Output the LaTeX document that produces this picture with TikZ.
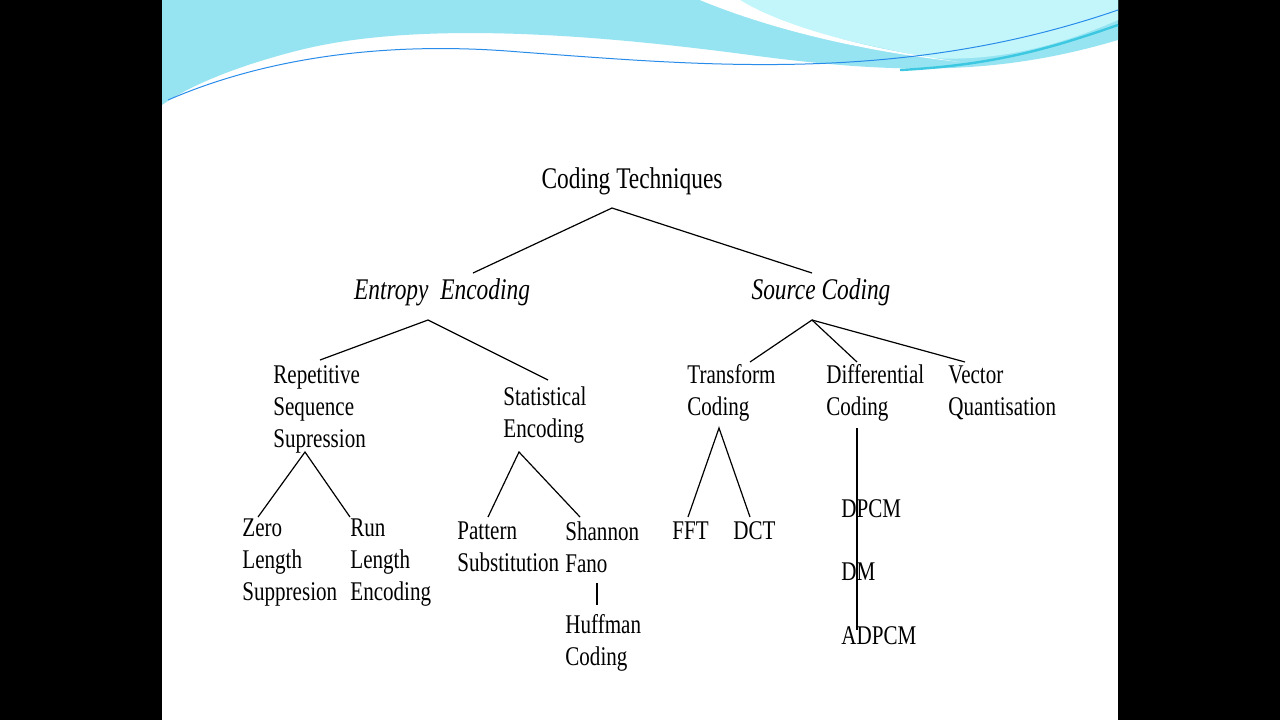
\documentclass[tikz,border=0pt]{standalone}
\usepackage{fontspec}
\setmainfont{Liberation Serif}[FakeStretch=0.78]
\definecolor{wave}{RGB}{150,228,242}
\definecolor{wavelt}{RGB}{195,246,250}
\definecolor{wavedk}{RGB}{60,200,225}
\begin{document}
\begin{tikzpicture}[x=0.5pt,y=-0.5pt,
  lbl/.style={inner sep=0pt,align=left,font=\fontsize{13.5}{16}\selectfont},
  ttl/.style={inner sep=0pt,font=\fontsize{15}{18}\selectfont},
  br/.style={line width=0.6pt}]
\useasboundingbox (0,0) rectangle (1280,720);
\fill[black] (0,0) rectangle (1280,720);
\fill[white] (162,0) rectangle (1118,720);
% banner
\fill[wave] (162,0) -- (1118,0) -- (1118,40) .. controls (1000,75) and (900,75) .. (750,55) .. controls (600,35) and (420,20) .. (300,50) .. controls (240,65) and (190,85) .. (162,105) -- cycle;
\fill[wavelt] (700,0) -- (1118,0) -- (1118,20) .. controls (1060,45) and (1000,62) .. (930,58) .. controls (840,40) and (760,20) .. cycle;
\fill[white] (700,0) .. controls (760,25) and (850,50) .. (960,62) .. controls (860,48) and (780,25) .. (740,0) -- cycle;
\draw[wavedk!70!blue,line width=0.5pt] (168,100) .. controls (260,60) and (380,40) .. (520,52) .. controls (700,65) and (900,85) .. (1118,10);
\draw[wavedk,line width=1.2pt] (900,70) .. controls (1000,65) and (1060,45) .. (1118,25);
% nodes
\node[ttl] (ct) at (632,181) {Coding Techniques};
\node[ttl,font=\fontsize{15}{18}\selectfont\itshape] (ee) at (442,292) {Entropy\ \ Encoding};
\node[ttl,font=\fontsize{15}{18}\selectfont\itshape] (sc) at (821,292) {Source Coding};
\node[lbl,anchor=west] (rss) at (273,409) {Repetitive\\Sequence\\Supression};
\node[lbl,anchor=west] (se) at (503,415) {Statistical\\Encoding};
\node[lbl,anchor=west] (tc) at (687,393) {Transform\\Coding};
\node[lbl,anchor=west] (dc) at (826,393) {Differential\\Coding};
\node[lbl,anchor=west] (vq) at (948,393) {Vector\\Quantisation};
\node[lbl,anchor=west] (zl) at (242,563) {Zero\\Length\\Suppresion};
\node[lbl,anchor=west] (rl) at (350,563) {Run\\Length\\Encoding};
\node[lbl,anchor=west] (ps) at (457,547) {Pattern\\Substitution};
\node[lbl,anchor=west] (sf) at (565,547) {Shannon\\Fano};
\node[lbl,anchor=west] (hc) at (565,643) {Huffman\\Coding};
\node[lbl,anchor=west] (fft) at (672,531) {FFT};
\node[lbl,anchor=west] (dct) at (733,531) {DCT};
\node[lbl,anchor=west] (dpcm) at (841,509) {DPCM};
\node[lbl,anchor=west] (dm) at (841,572) {DM};
\node[lbl,anchor=west] (adpcm) at (841,636) {ADPCM};
% connectors
\coordinate (ctb) at (612,208);
\coordinate (eeb) at (428,320);
\coordinate (scb) at (812,320);
\coordinate (rssb) at (305,452);
\coordinate (seb) at (519,452);
\coordinate (tcb) at (719,428);
\coordinate (dcb) at (857,428);
\draw[br] (473,273) -- (ctb) -- (812,273);
\draw[br] (320,360) -- (eeb) -- (548,380);
\draw[br] (750,362) -- (scb) -- (857,362);
\draw[br] (scb) -- (965,362);
\draw[br] (258,517) -- (rssb) -- (350,517);
\draw[br] (488,517) -- (seb) -- (580,517);
\draw[br] (688,517) -- (tcb) -- (750,517);
\draw[br] (dcb) -- (857,630);
\draw[br] (597,583) -- (597,605);
\end{tikzpicture}
\end{document}
